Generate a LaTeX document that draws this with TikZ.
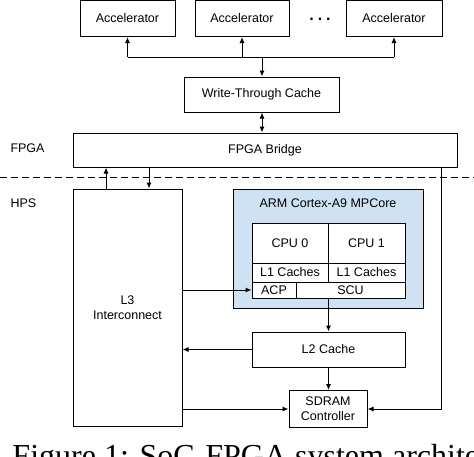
\documentclass[tikz,border=0pt]{standalone}
\usepackage{fontspec}
\setmainfont{Liberation Sans}
\newfontfamily\capfont{Liberation Serif}
\usetikzlibrary{arrows.meta}
\definecolor{armblue}{RGB}{207,226,243}

\begin{document}
\begin{tikzpicture}[x=1pt,y=-1pt,line width=1pt,
    blk/.style={draw,fill=white,inner sep=0pt,font=\fontsize{12.5}{15}\selectfont,align=center},
    lbl/.style={font=\fontsize{12.5}{15}\selectfont,inner sep=0pt},
    arr/.style={-{Latex[length=6pt,width=5pt]}},
    dblarr/.style={{Latex[length=6pt,width=5pt]}-{Latex[length=6pt,width=5pt]}}]
          \clip (0,0) rectangle (474,456);
          % FPGA side
          \node[blk,minimum width=95pt,minimum height=36pt] (acc1) at (127.5,18.5) {Accelerator};
          \node[blk,minimum width=94pt,minimum height=36pt] (acc2) at (242,18.5) {Accelerator};
          \node[blk,minimum width=96pt,minimum height=36pt] (acc3) at (394,18.5) {Accelerator};
          \node[lbl,font=\fontsize{16}{16}\bfseries] (dots) at (320,19) {.\hspace{4pt}.\hspace{4pt}.};
          \node[blk,minimum width=155pt,minimum height=35pt] (wtc) at (261.5,94.5) {Write-Through Cache};
          \node[blk,minimum width=384pt,minimum height=34pt] (bridge) at (265,150) {FPGA Bridge};
          \node[lbl,anchor=west] (fpga) at (10,148) {FPGA};
          \node[lbl,anchor=west] (hps) at (10,203) {HPS};
          \coordinate (bus) at (262,57);
          \draw (acc1.south |- bus) -- (acc3.south |- bus);
          \draw[arr] (acc1.south |- bus) -- (acc1.south);
          \draw[arr] (acc2.south |- bus) -- (acc2.south);
          \draw[arr] (acc3.south |- bus) -- (acc3.south);
          \draw[arr] (bus) -- (bus |- wtc.north);
          \draw[dblarr] (wtc.south -| bus) -- (bridge.north -| bus);
          % boundary
          \draw[dash pattern=on 7pt off 4pt] (0,177) -- (474,177);
          % HPS side
          \node[blk,minimum width=109pt,minimum height=237pt] (l3) at (127.5,307.5) {L3\\Interconnect};
          \node[draw,fill=armblue,minimum width=190pt,minimum height=119pt,inner sep=0pt] (arm) at (328,248.5) {};
          \node[lbl] (armlbl) at (328,203) {ARM Cortex-A9 MPCore};
          \node[blk,minimum width=76pt,minimum height=40pt] (cpu0) at (290,243) {CPU 0};
          \node[blk,minimum width=77pt,minimum height=40pt] (cpu1) at (366.5,243) {CPU 1};
          \node[blk,minimum width=76pt,minimum height=19pt] (l1a) at (290,272.5) {L1 Caches};
          \node[blk,minimum width=77pt,minimum height=19pt] (l1b) at (366.5,272.5) {L1 Caches};
          \node[blk,minimum width=44pt,minimum height=16pt] (acp) at (274,290) {ACP};
          \node[blk,minimum width=109pt,minimum height=16pt] (scu) at (350.5,290) {SCU};
          \node[blk,minimum width=153pt,minimum height=35pt] (l2) at (328.5,349.5) {L2 Cache};
          \node[blk,minimum width=78pt,minimum height=37pt] (sdram) at (328,409) {SDRAM\\Controller};
          \draw[arr] ([xshift=-21.5pt]l3.north) -- ([xshift=-21.5pt]l3.north |- bridge.south);
          \draw[arr] ([xshift=21.5pt]l3.north |- bridge.south) -- ([xshift=21.5pt]l3.north);
          \draw[arr] (l3.east |- acp) -- (acp.west);
          \draw[arr] (l2.north |- scu.south) -- (l2.north);
          \draw[arr] (l2.west) -- (l2.west -| l3.east);
          \draw[arr] (l2.south) -- (l2.south |- sdram.north);
          \draw[arr] (l3.east |- sdram) -- (sdram.west);
          \draw[arr] ([xshift=-16pt]bridge.south east) |- (sdram.east);
          % caption, cut off by the page
          \node[font=\fontsize{32}{36}\selectfont\capfont,anchor=base west,inner sep=0pt] (cap) at (12,466) {Figure 1: SoC-FPGA system architecture};
        \end{tikzpicture}
\end{document}
